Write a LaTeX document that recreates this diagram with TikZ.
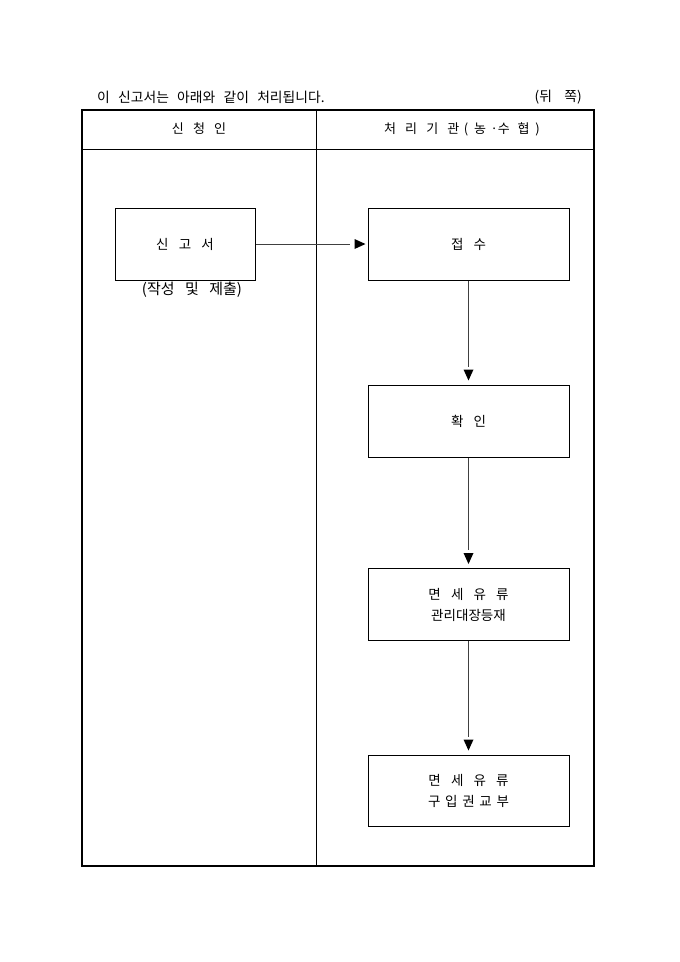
\documentclass[tikz,border=0pt]{standalone}
\usepackage{fontspec}
\setmainfont{Noto Sans CJK KR}
\usetikzlibrary{calc}
\newcommand\gap{\hspace{0.6em}}
\begin{document}
\begin{tikzpicture}[x=1pt,y=-1pt,
  flowbox/.style={draw=black,line width=1pt,minimum width=201pt,minimum height=72pt,align=center,font=\fontsize{13.5}{21}\selectfont,inner sep=0pt},
  flowline/.style={draw=black!75,line width=0.9pt,shorten >=18pt},
  tipfill/.style={fill=black,draw=none},
  hdr/.style={font=\fontsize{13}{15}\selectfont,inner sep=0pt},
  lbl/.style={font=\fontsize{13.8}{15}\selectfont,inner sep=0pt}]
\useasboundingbox (0,0) rectangle (680,962);
% table frame
\draw[line width=1.2pt] (82,110) rectangle (594,866);
\draw[line width=2pt] (82,110) -- (594,110);
\draw[line width=0.8pt] (82,149) -- (594,149);
\draw[line width=0.8pt] (316,110) -- (316,866);
% title
\node[lbl,anchor=west] (title) at (97,97) {이\gap 신고서는\gap 아래와\gap 같이\gap 처리됩니다.};
\node[lbl,anchor=east] (side) at (582,97) {(뒤\hspace{0.9em}쪽)};
% headers
\node[hdr] (h1) at (199,129) {신\hspace{0.7em}청\hspace{0.7em}인};
\node[hdr] (h2) at (462,129) {처\hspace{0.7em}리\hspace{0.7em}기\hspace{0.7em}관\hspace{0.35em}(\hspace{0.45em}농\hspace{0.35em}·수\hspace{0.6em}협\hspace{0.45em})};
% boxes
\node[flowbox,minimum width=140pt] (a) at (185,244) {신\hspace{0.75em}고\hspace{0.75em}서};
\node[lbl,font=\fontsize{15}{15}\selectfont] (anote) at (192,290) {(작성\hspace{0.7em}및\hspace{0.7em}제출)};
\node[flowbox] (b) at (468.5,244) {접\hspace{0.75em}수};
\node[flowbox] (c) at (468.5,421) {확\hspace{0.75em}인};
\node[flowbox] (d) at (468.5,604.5) {면\hspace{0.75em}세\hspace{0.75em}유\hspace{0.75em}류\\관리대장등재};
\node[flowbox,minimum height=71pt] (e) at (468.5,790.5) {면\hspace{0.75em}세\hspace{0.75em}유\hspace{0.75em}류\\구\hspace{0.35em}입\hspace{0.35em}권\hspace{0.35em}교\hspace{0.35em}부};
% connectors
\draw[flowline] (a.east) -- (b.west);
\fill[tipfill] ($(b.west)+(-2,0)$) -- ++(-11,-5) -- ++(0,10) -- cycle;
\draw[flowline] (b.south) -- (c.north);
\fill[tipfill] ($(c.north)+(0,-4)$) -- ++(-5,-11) -- ++(10,0) -- cycle;
\draw[flowline] (c.south) -- (d.north);
\fill[tipfill] ($(d.north)+(0,-4)$) -- ++(-5,-11) -- ++(10,0) -- cycle;
\draw[flowline] (d.south) -- (e.north);
\fill[tipfill] ($(e.north)+(0,-4)$) -- ++(-5,-11) -- ++(10,0) -- cycle;
\end{tikzpicture}
\end{document}
